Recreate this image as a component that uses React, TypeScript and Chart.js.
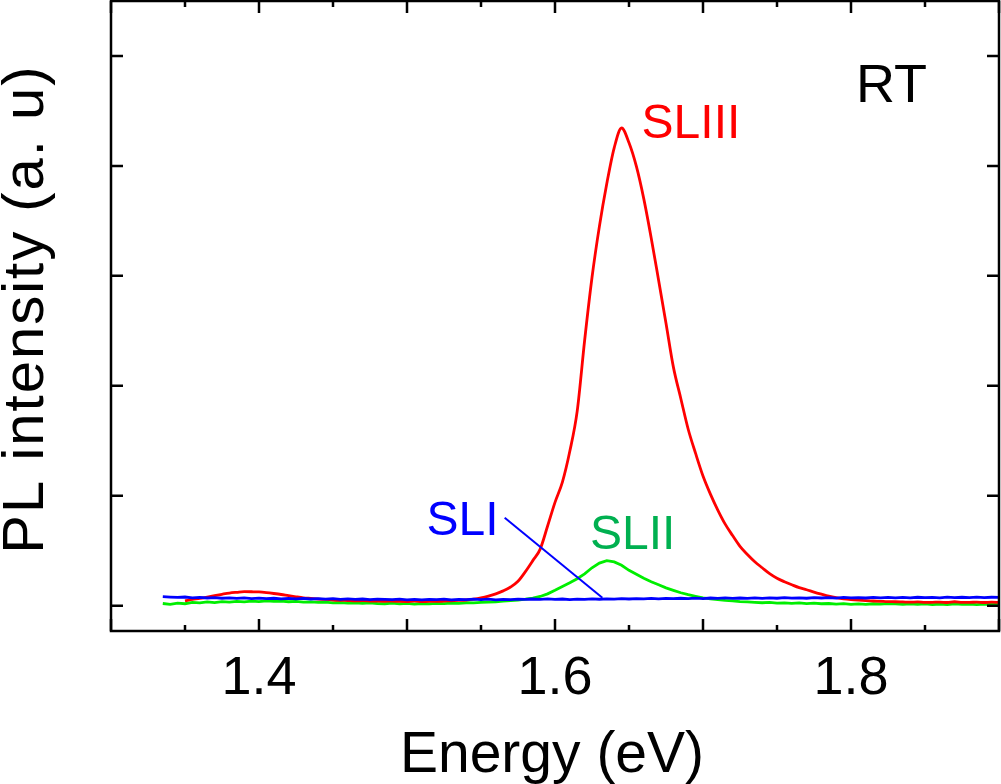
import React, { useEffect, useRef } from "react";
import { Chart, registerables } from "chart.js";

Chart.register(...registerables);

// Photon energy grid (eV)
const energy = [
  1.335, 1.34, 1.345, 1.35, 1.355, 1.36, 1.365, 1.37, 1.375, 1.38,
  1.385, 1.39, 1.395, 1.4, 1.405, 1.41, 1.415, 1.42, 1.425, 1.43,
  1.435, 1.44, 1.445, 1.45, 1.455, 1.46, 1.465, 1.47, 1.475, 1.48,
  1.485, 1.49, 1.495, 1.5, 1.505, 1.51, 1.515, 1.52, 1.525, 1.53,
  1.535, 1.54, 1.545, 1.55, 1.555, 1.56, 1.565, 1.57, 1.575, 1.58,
  1.585, 1.59, 1.595, 1.6, 1.605, 1.61, 1.615, 1.62, 1.625, 1.63,
  1.635, 1.64, 1.645, 1.65, 1.655, 1.66, 1.665, 1.67, 1.675, 1.68,
  1.685, 1.69, 1.695, 1.7, 1.705, 1.71, 1.715, 1.72, 1.725, 1.73,
  1.735, 1.74, 1.745, 1.75, 1.755, 1.76, 1.765, 1.77, 1.775, 1.78,
  1.785, 1.79, 1.795, 1.8, 1.805, 1.81, 1.815, 1.82, 1.825, 1.83,
  1.835, 1.84, 1.845, 1.85, 1.855, 1.86, 1.865, 1.87, 1.875, 1.88,
  1.885, 1.89, 1.895, 1.9,
];

// PL intensity of the three superlattices (arbitrary units)
const slIII = [
  null, null, null, 0.045, 0.058, 0.066, 0.079, 0.092, 0.104, 0.115,
  0.122, 0.128, 0.127, 0.125, 0.119, 0.111, 0.102, 0.091, 0.081, 0.072,
  0.066, 0.06, 0.057, 0.052, 0.049, 0.047, 0.044, 0.046, 0.043, 0.041,
  0.04, 0.042, 0.039, 0.038, 0.041, 0.037, 0.04, 0.039, 0.042, 0.045,
  0.048, 0.052, 0.06, 0.072, 0.088, 0.108, 0.135, 0.17, 0.222, 0.31,
  0.41, 0.515, 0.725, 0.94, 1.125, 1.405, 1.77, 2.41, 2.985, 3.45,
  3.84, 4.165, 4.345, 4.21, 3.995, 3.7, 3.345, 2.96, 2.57, 2.17,
  1.885, 1.605, 1.385, 1.18, 1.015, 0.87, 0.742, 0.638, 0.54, 0.466,
  0.4, 0.345, 0.292, 0.25, 0.218, 0.19, 0.164, 0.145, 0.124, 0.105,
  0.087, 0.073, 0.062, 0.055, 0.05, 0.046, 0.043, 0.04, 0.037, 0.036,
  0.034, 0.032, 0.035, 0.03, 0.031, 0.033, 0.029, 0.036, 0.031, 0.03,
  0.033, 0.029, 0.032, 0.03,
];

const slII = [
  0.02, 0.012, 0.024, 0.018, 0.03, 0.026, 0.034, 0.028, 0.038, 0.033,
  0.04, 0.035, 0.042, 0.037, 0.044, 0.039, 0.041, 0.036, 0.04, 0.033,
  0.035, 0.03, 0.032, 0.026, 0.029, 0.024, 0.027, 0.022, 0.025, 0.02,
  0.018, 0.023, 0.016, 0.021, 0.015, 0.02, 0.017, 0.022, 0.019, 0.024,
  0.022, 0.027, 0.025, 0.03, 0.033, 0.036, 0.041, 0.046, 0.052, 0.06,
  0.07, 0.084, 0.108, 0.14, 0.175, 0.208, 0.245, 0.29, 0.345, 0.388,
  0.41, 0.398, 0.368, 0.322, 0.287, 0.25, 0.218, 0.19, 0.162, 0.14,
  0.118, 0.1, 0.086, 0.072, 0.062, 0.055, 0.048, 0.044, 0.038, 0.034,
  0.03, 0.027, 0.031, 0.024, 0.026, 0.022, 0.025, 0.019, 0.023, 0.018,
  0.02, 0.015, 0.019, 0.013, 0.017, 0.012, 0.018, 0.014, 0.02, 0.016,
  0.013, 0.018, 0.012, 0.016, 0.01, 0.015, 0.011, 0.017, 0.012, 0.014,
  0.01, 0.015, 0.011, 0.013,
];

const slI = [
  0.082, 0.078, 0.075, 0.079, 0.072, 0.076, 0.07, 0.074, 0.068, 0.072,
  0.066, 0.071, 0.065, 0.069, 0.064, 0.068, 0.062, 0.067, 0.063, 0.066,
  0.061, 0.065, 0.06, 0.064, 0.058, 0.062, 0.057, 0.061, 0.056, 0.06,
  0.058, 0.055, 0.059, 0.054, 0.058, 0.053, 0.057, 0.055, 0.059, 0.054,
  0.058, 0.055, 0.06, 0.056, 0.059, 0.054, 0.058, 0.056, 0.06, 0.057,
  0.061, 0.057, 0.062, 0.058, 0.061, 0.056, 0.06, 0.058, 0.062, 0.059,
  0.063, 0.06, 0.064, 0.061, 0.065, 0.062, 0.066, 0.063, 0.067, 0.064,
  0.068, 0.064, 0.069, 0.065, 0.07, 0.066, 0.071, 0.067, 0.07, 0.066,
  0.071, 0.067, 0.072, 0.068, 0.073, 0.069, 0.072, 0.068, 0.074, 0.07,
  0.073, 0.069, 0.075, 0.071, 0.074, 0.07, 0.076, 0.072, 0.075, 0.071,
  0.076, 0.072, 0.077, 0.073, 0.076, 0.072, 0.078, 0.074, 0.077, 0.073,
  0.078, 0.074, 0.077, 0.075,
];

// Axis ticks
const xMajorTicks = [1.3, 1.4, 1.5, 1.6, 1.7, 1.8, 1.9];
const xMinorTicks = [1.35, 1.45, 1.55, 1.65, 1.75, 1.85];
const xTickLabels = ["1.4", "1.6", "1.8"];
const yTicks = [0, 1, 2, 3, 4, 5];

// Leader line from the "SLI" label down to its trace (eV, a.u.)
const sliLeaderStart = [1.566, 0.8];
const sliLeaderEnd = [1.632, 0.073];

const FONT = '"Liberation Sans", Arial, Helvetica, sans-serif';

const toPoints = (ys: (number | null)[]) =>
  energy.map((x, i) => ({ x, y: ys[i] }));

const framePlugin = {
  id: "frameAndLabels",
  afterDatasetsDraw(chart: any) {
    const { ctx, chartArea } = chart;
    const xs = chart.scales.x;
    const ys = chart.scales.y;
    const { left, right, top, bottom } = chartArea;

    ctx.save();
    ctx.strokeStyle = "#000";
    ctx.lineWidth = 2.5;
    ctx.lineCap = "butt";

    // frame
    ctx.strokeRect(left, top, right - left, bottom - top);

    // x ticks (inward, bottom and top)
    const tick = (x: number, len: number) => {
      ctx.beginPath();
      ctx.moveTo(x, bottom);
      ctx.lineTo(x, bottom - len);
      ctx.moveTo(x, top);
      ctx.lineTo(x, top + len);
      ctx.stroke();
    };
    xMajorTicks.forEach((v) => tick(xs.getPixelForValue(v), 12));
    xMinorTicks.forEach((v) => tick(xs.getPixelForValue(v), 6));

    // y ticks (inward, left and right)
    yTicks.forEach((v) => {
      const y = ys.getPixelForValue(v);
      ctx.beginPath();
      ctx.moveTo(left, y);
      ctx.lineTo(left + 12, y);
      ctx.moveTo(right, y);
      ctx.lineTo(right - 12, y);
      ctx.stroke();
    });

    // x tick labels
    ctx.fillStyle = "#000";
    ctx.font = `54px ${FONT}`;
    ctx.textAlign = "center";
    ctx.textBaseline = "alphabetic";
    xTickLabels.forEach((t) => {
      ctx.fillText(t, xs.getPixelForValue(parseFloat(t)), 694);
    });

    // axis titles
    ctx.font = `57px ${FONT}`;
    ctx.fillText("Energy (eV)", 552, 772);
    ctx.save();
    ctx.translate(43, 309);
    ctx.rotate(-Math.PI / 2);
    ctx.font = `58px ${FONT}`;
    ctx.letterSpacing = "2px";
    ctx.fillText("PL intensity (a. u)", 0, 0);
    ctx.restore();

    // curve labels
    ctx.textAlign = "left";
    ctx.font = `54px ${FONT}`;
    ctx.fillStyle = "#000";
    ctx.fillText("RT", xs.getPixelForValue(1.8034), ys.getPixelForValue(4.58));

    ctx.font = `48px ${FONT}`;
    ctx.fillStyle = "#ff0000";
    ctx.fillText("SLIII", xs.getPixelForValue(1.6585), ys.getPixelForValue(4.255));

    ctx.fillStyle = "#00b050";
    ctx.fillText("SLII", xs.getPixelForValue(1.6237), ys.getPixelForValue(0.518));

    ctx.fillStyle = "#0000ff";
    ctx.fillText("SLI", xs.getPixelForValue(1.5132), ys.getPixelForValue(0.645));

    ctx.strokeStyle = "#0000ff";
    ctx.lineWidth = 2;
    ctx.beginPath();
    ctx.moveTo(xs.getPixelForValue(sliLeaderStart[0]), ys.getPixelForValue(sliLeaderStart[1]));
    ctx.lineTo(xs.getPixelForValue(sliLeaderEnd[0]), ys.getPixelForValue(sliLeaderEnd[1]));
    ctx.stroke();

    ctx.restore();
  },
};

export default function App() {
  const canvasRef = useRef<HTMLCanvasElement | null>(null);

  useEffect(() => {
    const canvas = canvasRef.current;
    if (!canvas) return;
    const chart = new Chart(canvas, {
      type: "line",
      data: {
        datasets: [
          {
            label: "SLI",
            data: toPoints(slI),
            borderColor: "#0000ff",
            borderWidth: 2.8,
            pointRadius: 0,
            tension: 0,
          },
          {
            label: "SLIII",
            data: toPoints(slIII),
            borderColor: "#ff0000",
            borderWidth: 2.8,
            pointRadius: 0,
            cubicInterpolationMode: "monotone",
          },
          {
            label: "SLII",
            data: toPoints(slII),
            borderColor: "#00ee00",
            borderWidth: 2.8,
            pointRadius: 0,
            tension: 0,
          },
        ],
      },
      options: {
        responsive: false,
        animation: false,
        devicePixelRatio: 1,
        layout: { padding: { left: 111, right: 2, top: 1, bottom: 153 } },
        plugins: {
          legend: { display: false },
          tooltip: { enabled: false },
        },
        scales: {
          x: { type: "linear", min: 1.3, max: 1.9, display: false },
          y: { type: "linear", min: -0.23, max: 5.5, display: false },
        },
      },
      plugins: [framePlugin],
    });
    return () => chart.destroy();
  }, []);

  return (
    <div style={{ position: "absolute", left: 0, top: 0, width: 1001, height: 784, background: "#fff" }}>
      <canvas ref={canvasRef} width={1001} height={784} />
    </div>
  );
}
